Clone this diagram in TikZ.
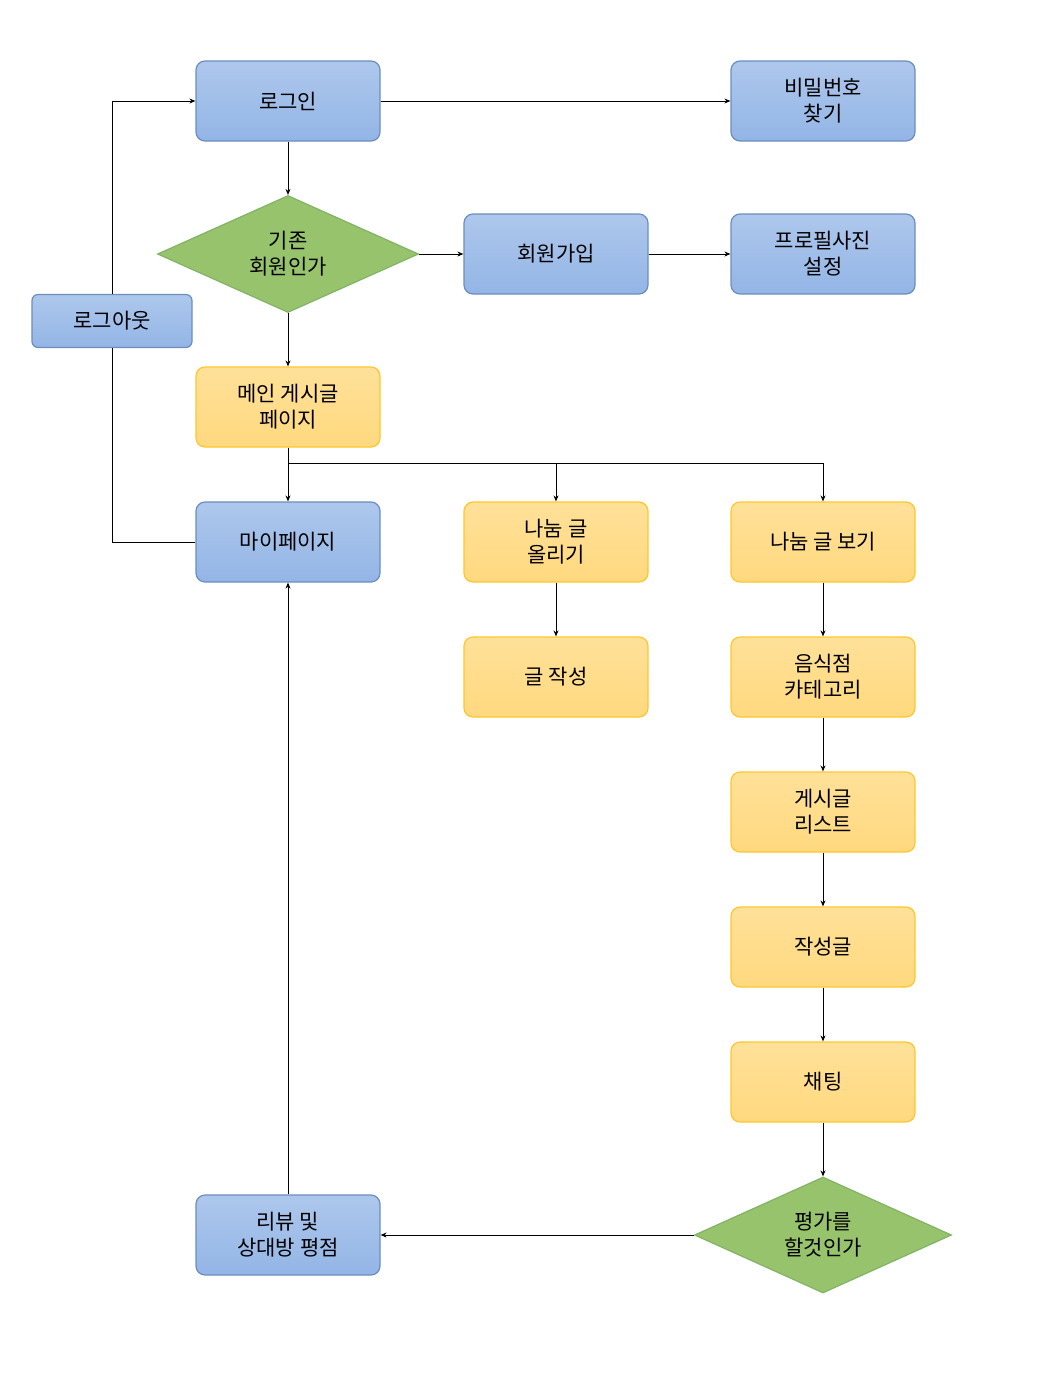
\documentclass[tikz,border=0pt]{standalone}
\usepackage{fontspec}
\setmainfont{Noto Sans CJK KR}
\usetikzlibrary{shapes.geometric,arrows.meta}
\definecolor{bfill}{HTML}{93B5E6}
\definecolor{bline}{HTML}{6C8EBF}
\definecolor{yfill}{HTML}{FFD97F}
\definecolor{yline}{HTML}{FFC72C}
\definecolor{gfill}{HTML}{97C36C}
\definecolor{gline}{HTML}{82B366}
\begin{document}
\begin{tikzpicture}[x=1pt,y=-1pt,
  every node/.style={font=\fontsize{21}{26}\selectfont, align=center, inner sep=0pt},
  box/.style={rectangle, rounded corners=9pt, minimum width=184pt, minimum height=80pt, line width=1.2pt},
  blue/.style={box, draw=bline, top color=bfill!75!white, bottom color=bfill},
  yel/.style={box, draw=yline, top color=yfill!80!white, bottom color=yfill},
  dia/.style={diamond, aspect=2.2, draw=gline, fill=gfill, line width=1.2pt, minimum width=261pt, minimum height=117pt},
  ar/.style={-{Stealth[length=6pt,width=5pt]}, line width=1pt}]
\useasboundingbox (0,0) rectangle (1045,1393);
\node[blue] (login) at (288,101) {로그인};
\node[blue] (pw) at (823,101) {비밀번호\\찾기};
\node[dia] (mem) at (288,254) {기존\\회원인가};
\node[blue] (join) at (556,254) {회원가입};
\node[blue] (prof) at (823,254) {프로필사진\\설정};
\node[blue, minimum width=160pt, minimum height=53pt, rounded corners=6pt] (logout) at (112,321) {로그아웃};
\node[yel] (main) at (288,407) {메인 게시글\\페이지};
\node[blue] (my) at (288,542) {마이페이지};
\node[yel] (up) at (556,542) {나눔 글\\올리기};
\node[yel] (view) at (823,542) {나눔 글 보기};
\node[yel] (write) at (556,677) {글 작성};
\node[yel] (cat) at (823,677) {음식점\\카테고리};
\node[yel] (list) at (823,812) {게시글\\리스트};
\node[yel] (post) at (823,947) {작성글};
\node[yel] (chat) at (823,1082) {채팅};
\node[dia, minimum width=257pt, minimum height=116pt] (eval) at (823,1235) {평가를\\할것인가};
\node[blue] (rev) at (288,1235) {리뷰 및\\상대방 평점};
\coordinate (j) at (288,463);
\draw[ar] (login) -- (pw);
\draw[ar] (login) -- (mem);
\draw[ar] (mem) -- (join);
\draw[ar] (join) -- (prof);
\draw[ar] (mem) -- (main);
\draw[line width=1pt] (main.south) -- (j);
\draw[ar] (j) -- (my);
\draw[ar] (j) -| (up.north);
\draw[ar] (j) -| (view.north);
\draw[ar] (up) -- (write);
\draw[ar] (view) -- (cat);
\draw[ar] (cat) -- (list);
\draw[ar] (list) -- (post);
\draw[ar] (post) -- (chat);
\draw[ar] (chat) -- (eval);
\draw[ar] (eval) -- (rev);
\draw[ar] (rev) -- (my);
\draw[line width=1pt] (my.west) -| (logout.south);
\draw[ar] (logout.north) |- (login.west);
\end{tikzpicture}
\end{document}
